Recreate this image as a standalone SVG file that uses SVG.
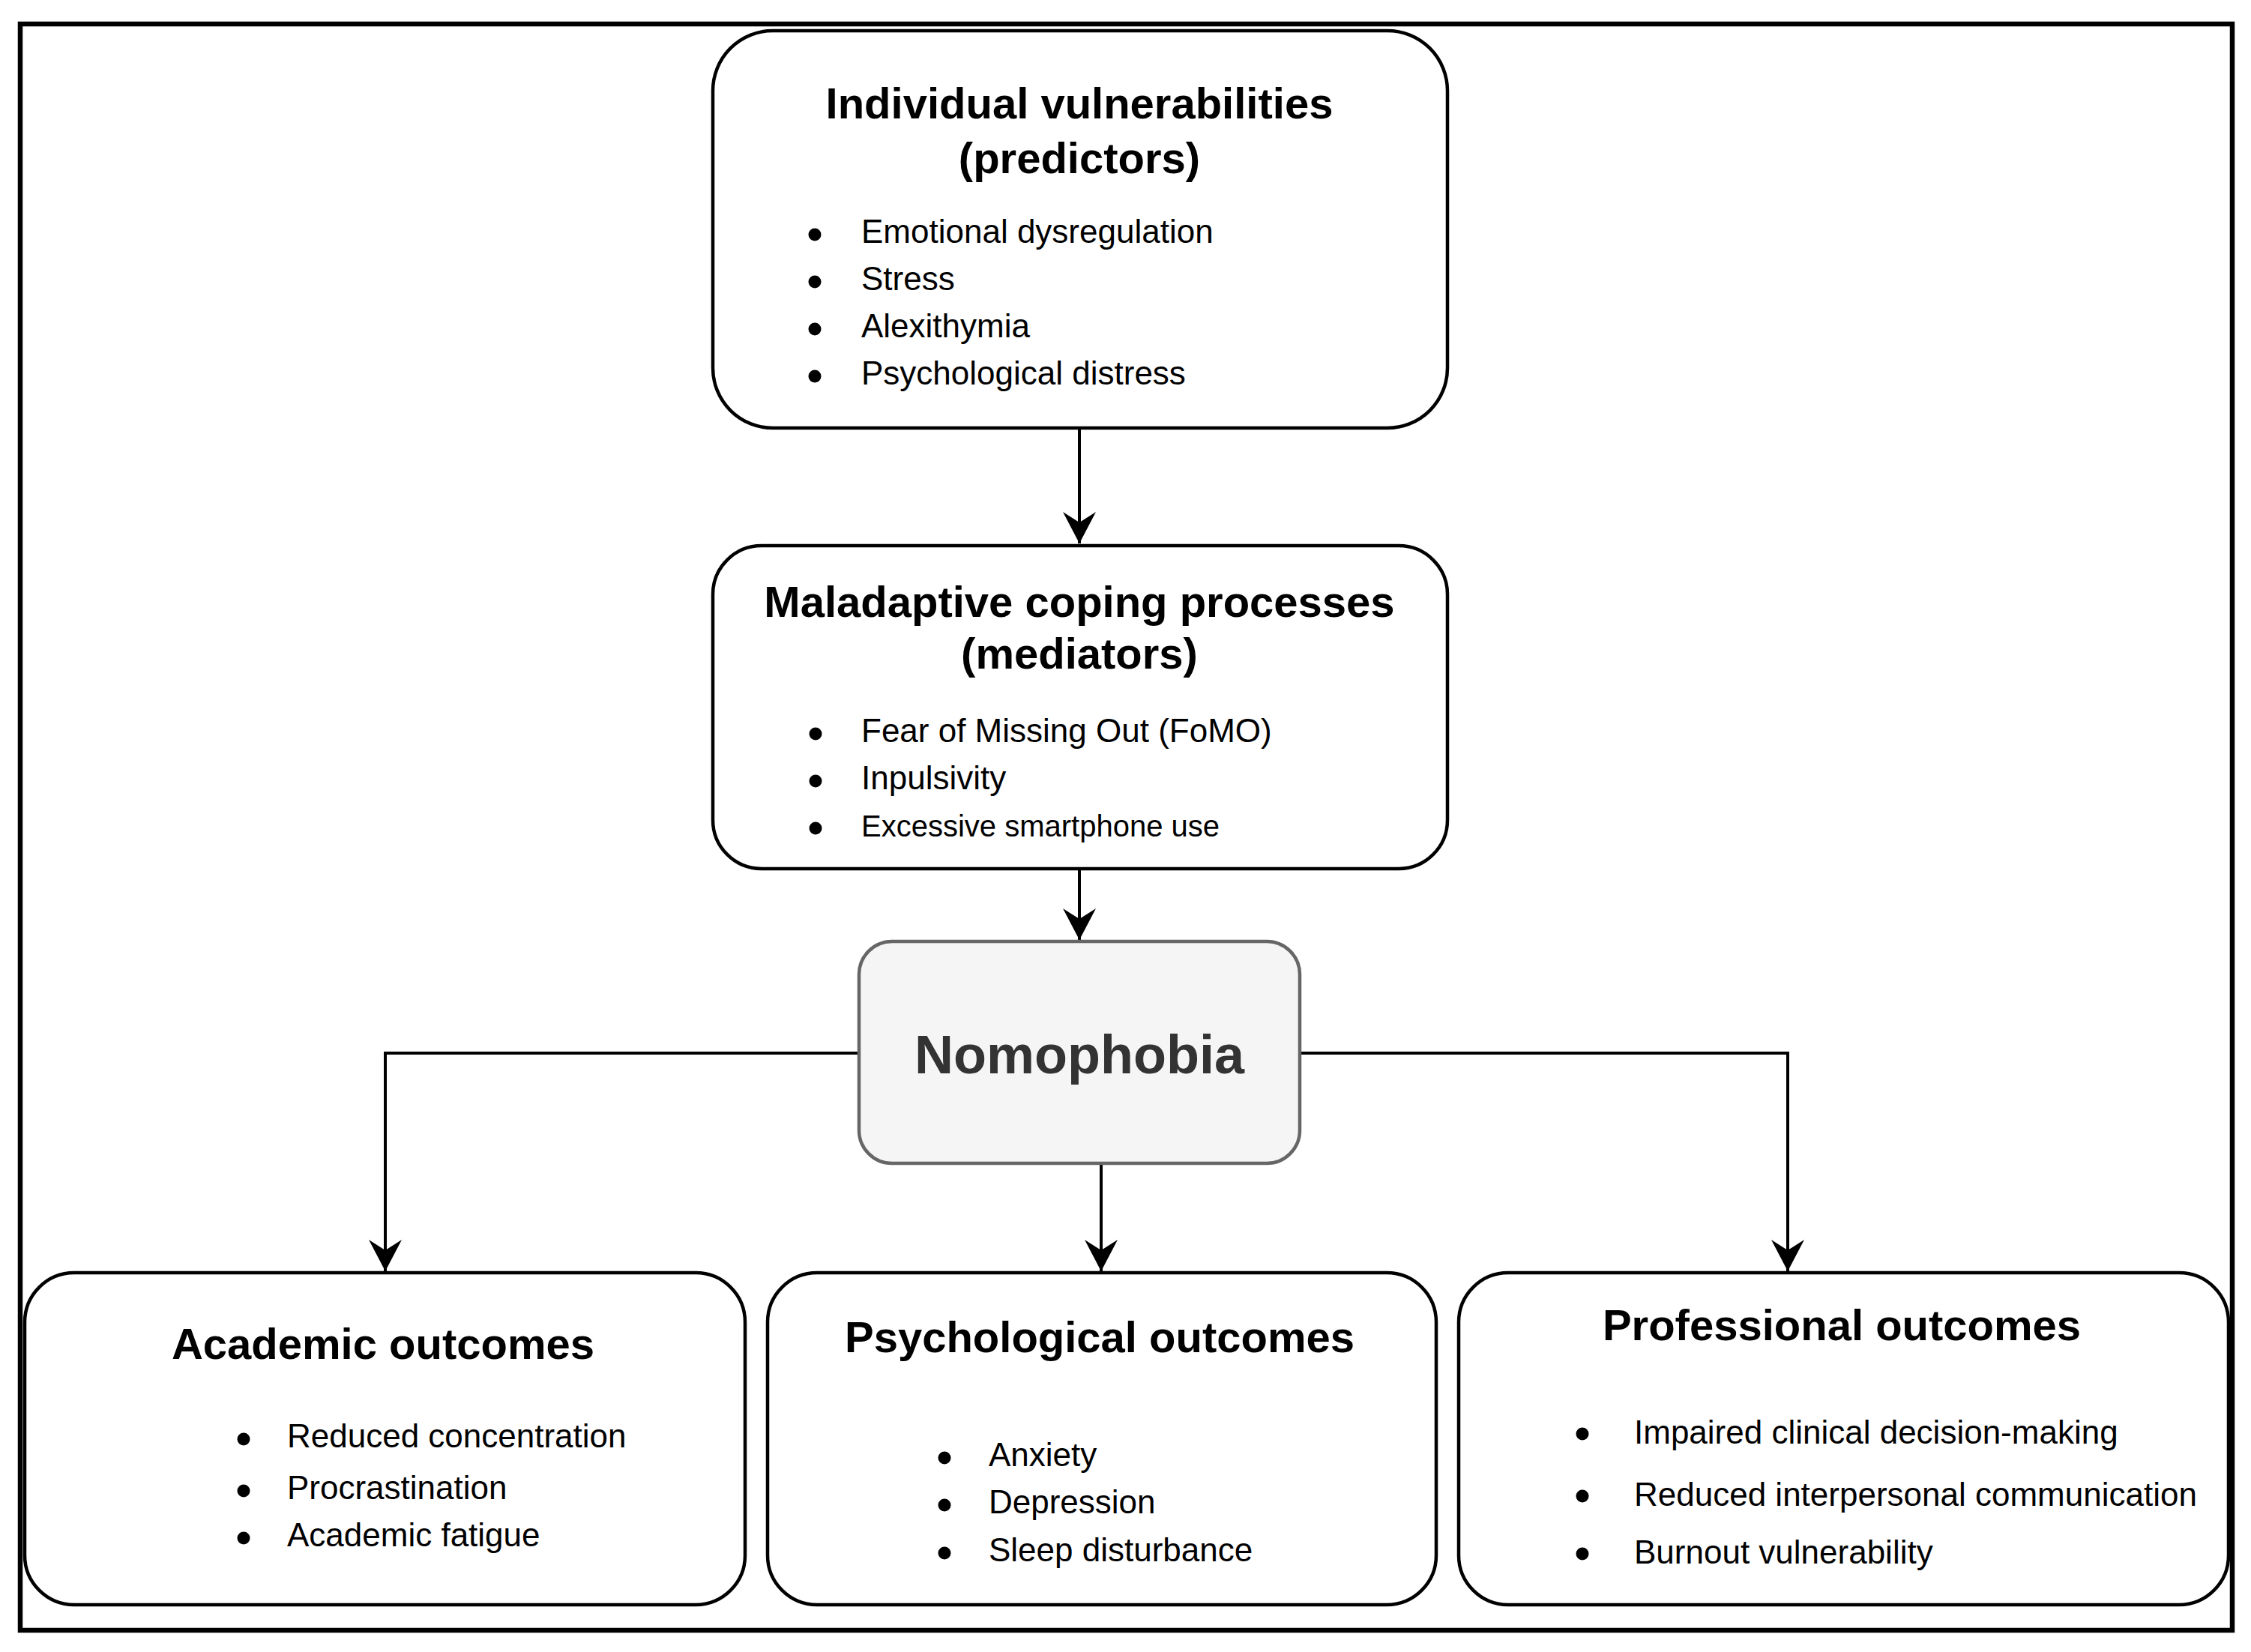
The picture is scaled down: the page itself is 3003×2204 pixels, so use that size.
<svg xmlns="http://www.w3.org/2000/svg" width="3003" height="2204" viewBox="0 0 3003 2204">
<style>
text{font-family:"Liberation Sans",Arial,Helvetica,sans-serif;fill:#000}
.box{fill:#fff;stroke:#000;stroke-width:4.5}
.core{fill:#f5f5f5;stroke:#666;stroke-width:4.5}
.ttl{font-size:58px;font-weight:bold;text-anchor:middle}
.it{font-size:44px}
.dot{fill:#000}
.con{fill:none;stroke:#000;stroke-width:4;marker-end:url(#arr)}
</style>
<defs>
<marker id="arr" markerUnits="userSpaceOnUse" markerWidth="50" markerHeight="50" viewBox="-45 -25 50 50" refX="0" refY="0" orient="auto">
<path d="M0,0 L-42,-22 L-28,0 L-42,22 Z" fill="#000"/>
</marker>
</defs>
<rect x="0" y="0" width="3003" height="2204" fill="#fff"/>
<rect id="frame" x="27" y="32" width="2951" height="2143" fill="none" stroke="#000" stroke-width="6.5"/>

<g id="connectors">
<path class="con" d="M1440,573 L1440,725"/>
<path class="con" d="M1440,1160 L1440,1254"/>
<path class="con" d="M1146,1405 L514,1405 L514,1696"/>
<path class="con" d="M1469,1552 L1469,1696"/>
<path class="con" d="M1734,1405 L2385,1405 L2385,1696"/>
</g>

<g id="predictors">
<rect class="box" x="951" y="41" width="980" height="530" rx="80" ry="80"/>
<text class="ttl" x="1440" y="158">Individual vulnerabilities</text>
<text class="ttl" x="1440" y="231">(predictors)</text>
<circle class="dot" cx="1087" cy="313" r="8.5"/>
<text class="it" x="1149" y="324">Emotional dysregulation</text>
<circle class="dot" cx="1087" cy="376" r="8.5"/>
<text class="it" x="1149" y="387">Stress</text>
<circle class="dot" cx="1087" cy="439" r="8.5"/>
<text class="it" x="1149" y="450">Alexithymia</text>
<circle class="dot" cx="1087" cy="502" r="8.5"/>
<text class="it" x="1149" y="513">Psychological distress</text>
</g>

<g id="mediators">
<rect class="box" x="951" y="728" width="980" height="431" rx="65" ry="65"/>
<text class="ttl" x="1440" y="823">Maladaptive coping processes</text>
<text class="ttl" x="1440" y="892">(mediators)</text>
<circle class="dot" cx="1088" cy="979" r="8.5"/>
<text class="it" x="1149" y="990">Fear of Missing Out (FoMO)</text>
<circle class="dot" cx="1088" cy="1042" r="8.5"/>
<text class="it" x="1149" y="1053">Inpulsivity</text>
<circle class="dot" cx="1088" cy="1105" r="8.5"/>
<text class="it" x="1149" y="1116" style="font-size:40px">Excessive smartphone use</text>
</g>

<g id="nomophobia">
<rect class="core" x="1146" y="1256" width="588" height="296" rx="44" ry="44"/>
<text x="1440" y="1432" style="font-size:72px;font-weight:bold;text-anchor:middle;fill:#333">Nomophobia</text>
</g>

<g id="academic">
<rect class="box" x="33" y="1698" width="961" height="443" rx="66" ry="66"/>
<text class="ttl" x="511" y="1813">Academic outcomes</text>
<circle class="dot" cx="325" cy="1920" r="8.5"/>
<text class="it" x="383" y="1931">Reduced concentration</text>
<circle class="dot" cx="325" cy="1989" r="8.5"/>
<text class="it" x="383" y="2000">Procrastination</text>
<circle class="dot" cx="325" cy="2052" r="8.5"/>
<text class="it" x="383" y="2063">Academic fatigue</text>
</g>

<g id="psychological">
<rect class="box" x="1024" y="1698" width="892" height="443" rx="66" ry="66"/>
<text class="ttl" x="1467" y="1804">Psychological outcomes</text>
<circle class="dot" cx="1260" cy="1945" r="8.5"/>
<text class="it" x="1319" y="1956">Anxiety</text>
<circle class="dot" cx="1260" cy="2008" r="8.5"/>
<text class="it" x="1319" y="2019">Depression</text>
<circle class="dot" cx="1260" cy="2072" r="8.5"/>
<text class="it" x="1319" y="2083">Sleep disturbance</text>
</g>

<g id="professional">
<rect class="box" x="1946" y="1698" width="1027" height="443" rx="66" ry="66"/>
<text class="ttl" x="2457" y="1788">Professional outcomes</text>
<circle class="dot" cx="2111" cy="1913" r="8.5"/>
<text class="it" x="2180" y="1926">Impaired clinical decision-making</text>
<circle class="dot" cx="2111" cy="1996" r="8.5"/>
<text class="it" x="2180" y="2009">Reduced interpersonal communication</text>
<circle class="dot" cx="2111" cy="2073" r="8.5"/>
<text class="it" x="2180" y="2086">Burnout vulnerability</text>
</g>
</svg>
